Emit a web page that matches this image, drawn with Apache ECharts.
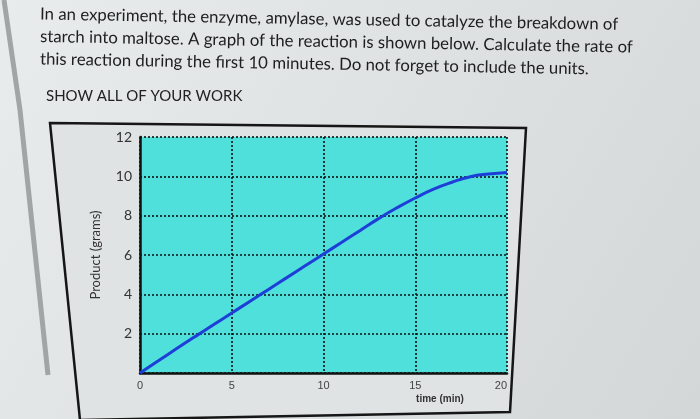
<!DOCTYPE html>
<html>
<head>
<meta charset="utf-8">
<script src="https://cdn.jsdelivr.net/npm/echarts@6/dist/echarts.min.js"></script>
<style>
html,body{margin:0;padding:0;background:#dfe3e4;}
#c{width:700px;height:419px;}
</style>
</head>
<body>
<div id="c"></div>
<script>
const questionLines = [
  "In an experiment, the enzyme, amylase, was used to catalyze the breakdown of",
  "starch into maltose. A graph of the reaction is shown below. Calculate the rate of",
  "this reaction during the first 10 minutes. Do not forget to include the units."
];
const instruction = "SHOW ALL OF YOUR WORK";
const timeMin = [0,1,2,3,4,5,6,7,8,9,10,11,12,13,14,15,16,17,18,19,20];
const productGrams = [0,0.62,1.24,1.85,2.45,3.05,3.65,4.25,4.85,5.45,6.05,6.65,7.25,7.85,8.4,8.9,9.35,9.7,9.98,10.12,10.2];
const xTicks = [0,5,10,15,20];
const yTicks = [0,2,4,6,8,10,12];
const xName = "time (min)";
const yName = "Product (grams)";

const chart = echarts.init(document.getElementById('c'), null, {renderer:'canvas'});
const fontFam = 'Lato, "Open Sans", sans-serif';

const graphics = [
  {type:'rect', shape:{x:0,y:0,width:700,height:419}, style:{fill:new echarts.graphic.LinearGradient(0,0,1,1,[{offset:0,color:'#e8ecec'},{offset:1,color:'#d3d7d8'}])}, z:-10, silent:true},
  {type:'polyline', shape:{points:[[4,0],[20,110],[48,375]]}, style:{stroke:'#a2a5a5', lineWidth:5, fill:null}, z:-5},
  {type:'polygon', shape:{points:[[50,123],[526,128],[510,412],[80,420]]}, style:{fill:'#dfe3e3', stroke:'#161616', lineWidth:2.5}, z:-4},
  {type:'text', x:440, y:399, style:{text:xName, font:'bold 10px Arial, sans-serif', fill:'#333', textAlign:'center', textVerticalAlign:'middle'}, z:10},
  {type:'text', x:46, y:96, style:{text:instruction, font:'15px '+fontFam, fill:'#222', textVerticalAlign:'middle'}}
];
questionLines.forEach((t,i)=>{
  graphics.push({type:'text', x:40, y:14+i*22.5, rotation:-0.018, style:{text:t, font:'16.8px '+fontFam, fill:'#1e1e1e', textVerticalAlign:'middle'}});
});

chart.setOption({
  backgroundColor:'transparent',
  animation:false,
  graphic:graphics,
  grid:{left:140, right:193, top:137, bottom:46, show:true, backgroundColor:'#4fe0dc', borderWidth:0},
  xAxis:{
    type:'value', min:xTicks[0], max:xTicks[xTicks.length-1], interval:5,
    axisLine:{show:true, lineStyle:{color:'#111', width:2.5}},
    axisTick:{show:false},
    axisLabel:{color:'#444', fontSize:11, fontFamily:'Arial, sans-serif', margin:7, alignMaxLabel:'right', alignMinLabel:'center'},
    splitLine:{show:true, lineStyle:{color:'#111', type:[2,2], width:1.6}}
  },
  yAxis:{
    type:'value', min:yTicks[0], max:yTicks[yTicks.length-1], interval:2,
    name:yName, nameLocation:'middle', nameGap:38,
    nameTextStyle:{color:'#333', fontSize:13, fontFamily:fontFam},
    axisLine:{show:true, lineStyle:{color:'#111', width:2.5}},
    axisTick:{show:false},
    axisLabel:{color:'#333', fontSize:14, fontFamily:fontFam, margin:8, formatter:v=> v===0?'':String(v)},
    splitLine:{show:true, lineStyle:{color:'#111', type:[2,2], width:1.6}}
  },
  series:[{
    type:'line', smooth:true, showSymbol:false,
    data:timeMin.map((t,i)=>[t,productGrams[i]]),
    lineStyle:{color:'#1d3fd8', width:3}
  }]
});
</script>
</body>
</html>
